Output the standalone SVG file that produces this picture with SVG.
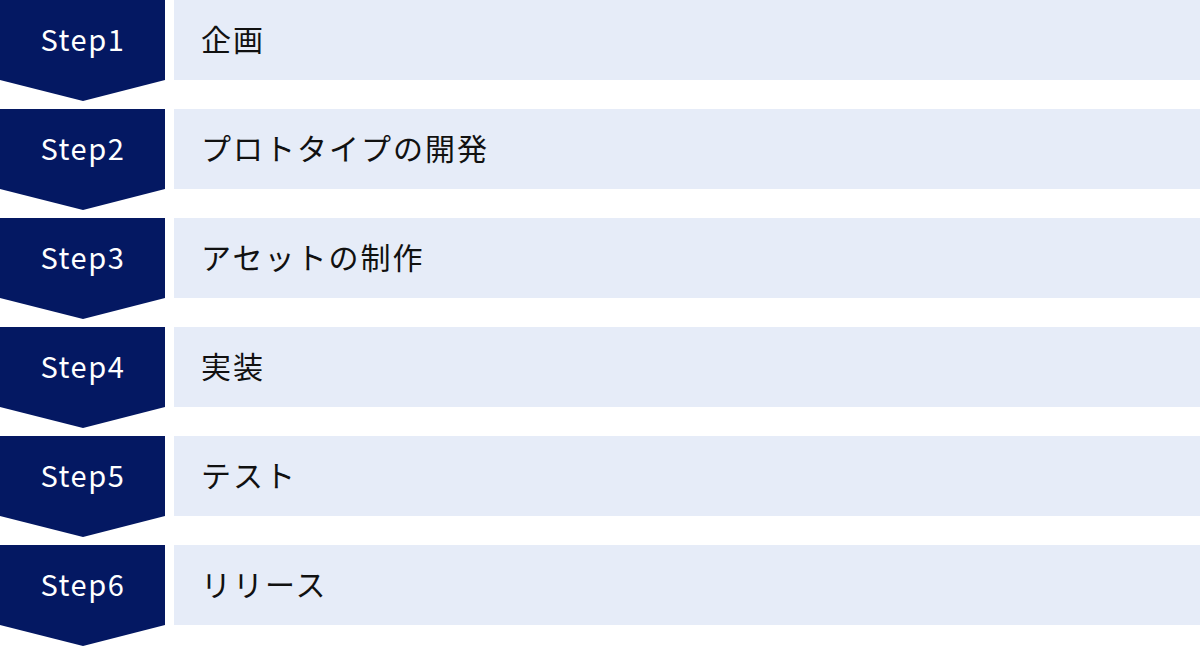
<svg xmlns="http://www.w3.org/2000/svg" width="1200" height="647" viewBox="0 0 1200 647">
<style>
.tag{fill:#041862}
.bar{fill:#E6ECF8}
.st{font-family:"Noto Sans CJK JP","Noto Sans",sans-serif;font-size:29px;fill:#fff;text-anchor:middle;letter-spacing:1.6px}
.lb{font-family:"Noto Sans CJK JP","Noto Sans",sans-serif;font-size:30px;fill:#111;letter-spacing:2px}
</style>
<rect width="1200" height="647" fill="#fff"/>
<g id="step1"><polygon class="tag" points="0,0 165,0 165,80 83,101 0,80"/><rect class="bar" x="174" y="0" width="1026" height="80"/><text class="st" x="83" y="51">Step1</text><text class="lb" x="201" y="51">企画</text></g>
<g id="step2" transform="translate(0,109)"><polygon class="tag" points="0,0 165,0 165,80 83,101 0,80"/><rect class="bar" x="174" y="0" width="1026" height="80"/><text class="st" x="83" y="51">Step2</text><text class="lb" x="201" y="51">プロトタイプの開発</text></g>
<g id="step3" transform="translate(0,218)"><polygon class="tag" points="0,0 165,0 165,80 83,101 0,80"/><rect class="bar" x="174" y="0" width="1026" height="80"/><text class="st" x="83" y="51">Step3</text><text class="lb" x="201" y="51">アセットの制作</text></g>
<g id="step4" transform="translate(0,327)"><polygon class="tag" points="0,0 165,0 165,80 83,101 0,80"/><rect class="bar" x="174" y="0" width="1026" height="80"/><text class="st" x="83" y="51">Step4</text><text class="lb" x="201" y="51">実装</text></g>
<g id="step5" transform="translate(0,436)"><polygon class="tag" points="0,0 165,0 165,80 83,101 0,80"/><rect class="bar" x="174" y="0" width="1026" height="80"/><text class="st" x="83" y="51">Step5</text><text class="lb" x="201" y="51">テスト</text></g>
<g id="step6" transform="translate(0,545)"><polygon class="tag" points="0,0 165,0 165,80 83,101 0,80"/><rect class="bar" x="174" y="0" width="1026" height="80"/><text class="st" x="83" y="51">Step6</text><text class="lb" x="201" y="51">リリース</text></g>
<g id="connectors"/>
</svg>
